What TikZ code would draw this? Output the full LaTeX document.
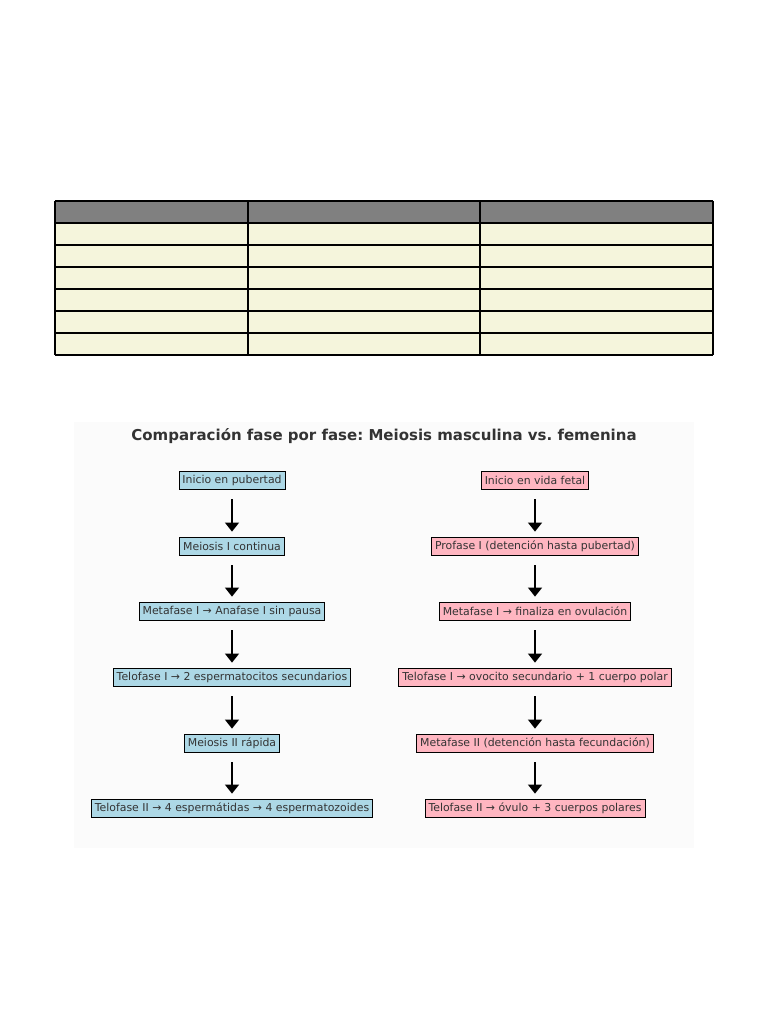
\documentclass[tikz,border=0pt]{standalone}
\usepackage{fontspec}
\setmainfont{DejaVu Sans}
\usetikzlibrary{arrows.meta}
\frenchspacing
\definecolor{hdr}{HTML}{808080}
\definecolor{beige}{HTML}{F5F5DC}
\definecolor{lblue}{HTML}{ADD8E6}
\definecolor{lpink}{HTML}{FFB6C1}
\definecolor{txt}{HTML}{333333}
\definecolor{panel}{HTML}{FBFBFB}
\tikzset{
  cell/.style={draw=black, line width=1.2pt},
  mbox/.style={draw=black, line width=0.8pt, fill=lblue, text=txt, font=\fontsize{10.9}{13}\selectfont, inner xsep=3.5pt, minimum height=18pt, inner ysep=0pt},
  fbox/.style={mbox, fill=lpink},
  flow/.style={-{Triangle[width=14pt,length=9pt]}, line width=1.3pt, shorten <=10pt, shorten >=5pt},
}
\begin{document}
\begin{tikzpicture}[x=1pt,y=-1pt]
\useasboundingbox (0,0) rectangle (768,1024);
\fill[white] (0,0) rectangle (768,1024);
% table
\fill[hdr] (55,201) rectangle (713,223);
\fill[beige] (55,223) rectangle (713,355);
\foreach \y in {201,223,245,267,289,311,333,355} \draw[cell] (55,\y) -- (713,\y);
\foreach \x in {55,248,480,713} \draw[cell] (\x,201) -- (\x,355);
% panel
\fill[panel] (74,422) rectangle (694,848);
\node[font=\bfseries\fontsize{15}{18}\selectfont, text=txt] (title) at (384,436) {Comparación fase por fase: Meiosis masculina vs. femenina};
% left column
\node[mbox] (m1) at (232,480) {Inicio en pubertad};
\node[mbox] (m2) at (232,546) {Meiosis I continua};
\node[mbox] (m3) at (232,611) {Metafase I → Anafase I sin pausa};
\node[mbox] (m4) at (232,677) {Telofase I → 2 espermatocitos secundarios};
\node[mbox] (m5) at (232,743) {Meiosis II rápida};
\node[mbox] (m6) at (232,808) {Telofase II → 4 espermátidas → 4 espermatozoides};
% right column
\node[fbox] (f1) at (535,480) {Inicio en vida fetal};
\node[fbox] (f2) at (535,546) {Profase I (detención hasta pubertad)};
\node[fbox] (f3) at (535,611) {Metafase I → finaliza en ovulación};
\node[fbox] (f4) at (535,677) {Telofase I → ovocito secundario + 1 cuerpo polar};
\node[fbox] (f5) at (535,743) {Metafase II (detención hasta fecundación)};
\node[fbox] (f6) at (535,808) {Telofase II → óvulo + 3 cuerpos polares};
\foreach \a/\b in {1/2,2/3,3/4,4/5,5/6} {
  \draw[flow] (m\a) -- (m\b);
  \draw[flow] (f\a) -- (f\b);
}
\end{tikzpicture}
\end{document}
